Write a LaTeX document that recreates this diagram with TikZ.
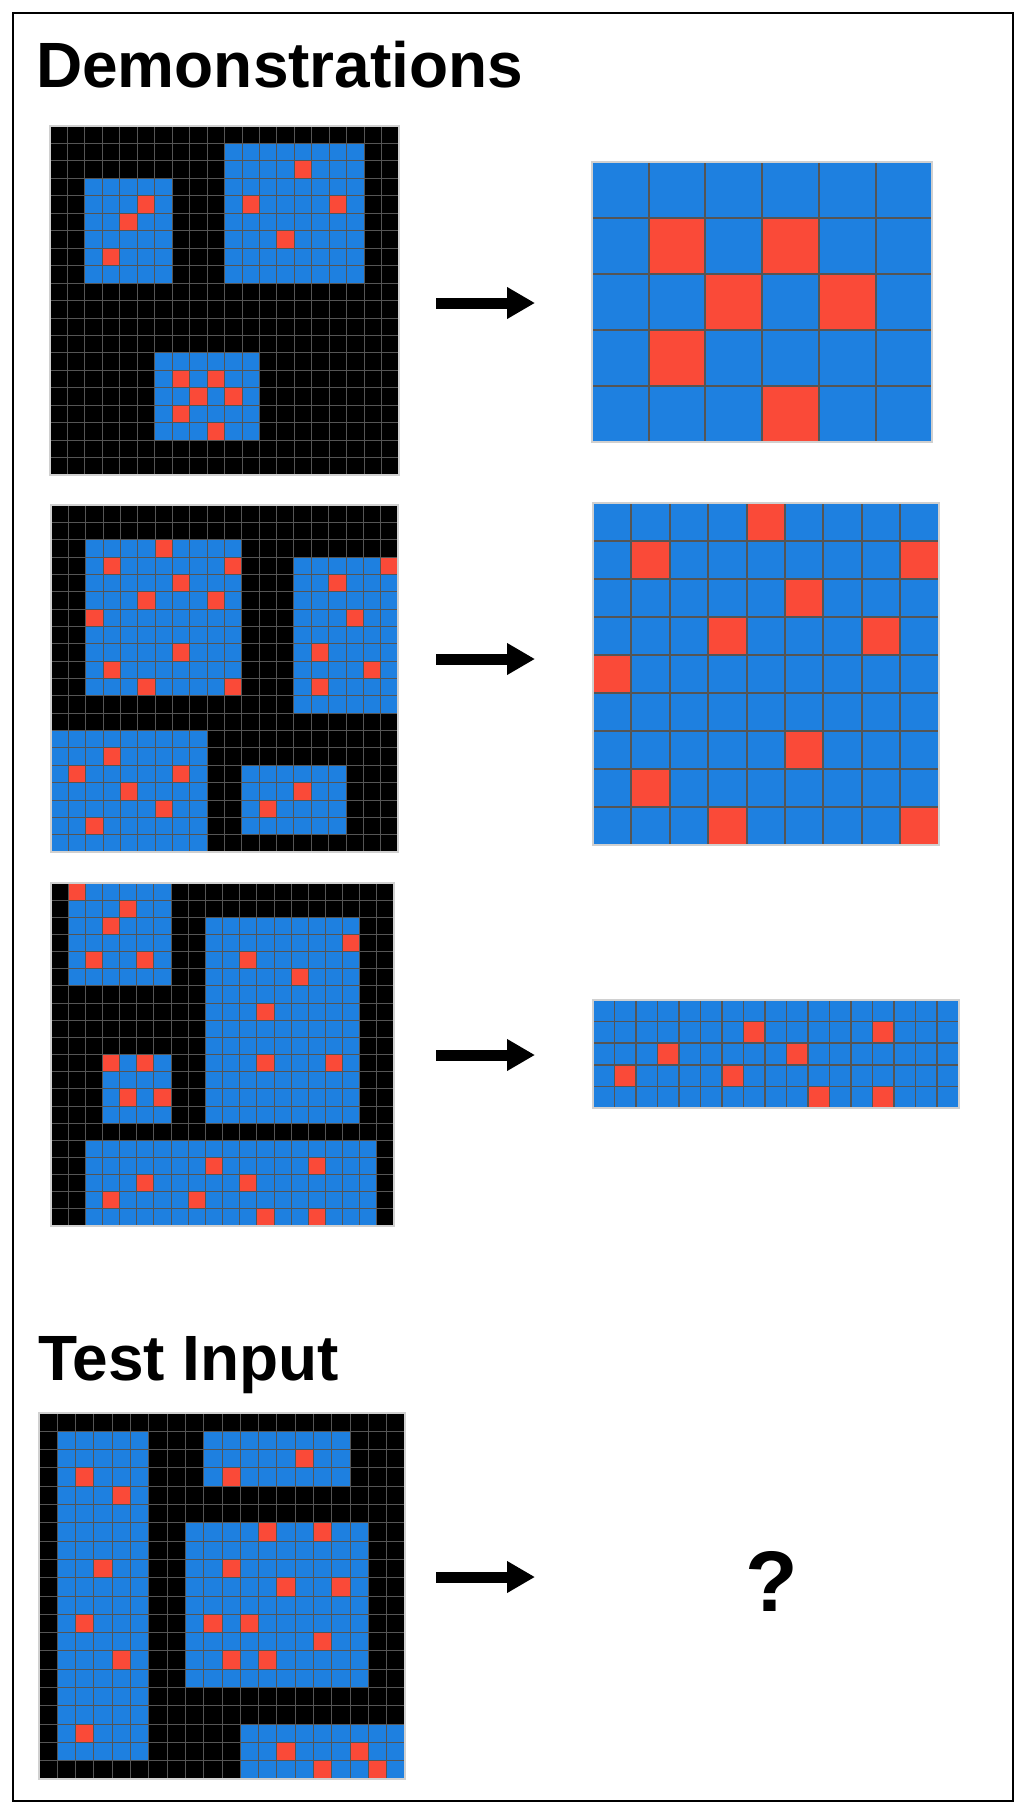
\documentclass[tikz,border=0pt]{standalone}
\usepackage{fontspec}
\setmainfont{Liberation Sans}
\usetikzlibrary{arrows.meta}

\definecolor{arcblue}{RGB}{30,128,224}
\definecolor{arcred}{RGB}{250,74,56}
\definecolor{arcline}{RGB}{85,85,85}
\definecolor{arcrim}{RGB}{208,208,208}

\begin{document}
\begin{tikzpicture}[x = 1pt, y = -1pt,
                      back/.style = {fill = black},
                      patch/.style = {fill = arcblue},
                      dot/.style = {fill = arcred},
                      lines/.style = {draw = arcline, line width = 0.9pt},
                      thicklines/.style = {draw = arcline, line width = 2pt},
                      rim/.style = {draw = arcrim, line width = 2pt},
                      title/.style = {font = \bfseries\fontsize{64}{70}\selectfont, anchor = base west, inner sep = 0},
                      pointer/.style = {line width = 11pt, -{Triangle[length = 28pt, width = 30pt]}}]
    \fill [white] (0, 0) rectangle (1028, 1814);
    \useasboundingbox (0, 0) rectangle (1028, 1814);
    \draw [line width = 2pt] (13, 13) rectangle (1013, 1801);

    \node [title] (demos) at (36, 88) {Demonstrations};
    \node [title] (test) at (38, 1380) {Test Input};

    % demonstration 1
    \begin{scope}[shift = {(50, 126)}, x = 17.45pt, y = -17.45pt]
    \fill [back] (0, 0) rectangle (20, 20);
    \fill [patch] (2, 3) rectangle (7, 9);
    \fill [patch] (10, 1) rectangle (18, 9);
    \fill [patch] (6, 13) rectangle (12, 18);
    \foreach \c/\r in {5/4, 4/5, 3/7, 14/2, 11/4, 16/4, 13/6, 7/14, 9/14, 8/15, 10/15, 7/16, 9/17}
        \fill [dot] (\c, \r) rectangle ++(1, 1);
    \foreach \i in {1,...,19}
        \draw [lines] (\i, 0) -- (\i, 20) (0, \i) -- (20, \i);
    \draw [rim] (0, 0) rectangle (20, 20);
    \end{scope}
    \begin{scope}[shift = {(592, 162)}, x = 56.7pt, y = -56pt]
    \fill [patch] (0, 0) rectangle (6, 5);
    \foreach \c/\r in {1/1, 3/1, 2/2, 4/2, 1/3, 3/4}
        \fill [dot] (\c, \r) rectangle ++(1, 1);
    \foreach \i in {1,...,5}
        \draw [thicklines] (\i, 0) -- (\i, 5);
    \foreach \i in {1,...,4}
        \draw [thicklines] (0, \i) -- (6, \i);
    \draw [rim] (0, 0) rectangle (6, 5);
    \end{scope}

    % demonstration 2
    \begin{scope}[shift = {(51, 505)}, x = 17.35pt, y = -17.35pt]
    \fill [back] (0, 0) rectangle (20, 20);
    \fill [patch] (2, 2) rectangle (11, 11);
    \fill [patch] (14, 3) rectangle (20, 12);
    \fill [patch] (0, 13) rectangle (9, 20);
    \fill [patch] (11, 15) rectangle (17, 19);
    \foreach \c/\r in {6/2, 3/3, 10/3, 7/4, 5/5, 9/5, 2/6, 7/8, 3/9, 5/10, 10/10,
                       19/3, 16/4, 17/6, 15/8, 18/9, 15/10,
                       3/14, 1/15, 7/15, 4/16, 6/17, 2/18, 14/16, 12/17}
        \fill [dot] (\c, \r) rectangle ++(1, 1);
    \foreach \i in {1,...,19}
        \draw [lines] (\i, 0) -- (\i, 20) (0, \i) -- (20, \i);
    \draw [rim] (0, 0) rectangle (20, 20);
    \end{scope}
    \begin{scope}[shift = {(593, 503)}, x = 38.4pt, y = -38pt]
    \fill [patch] (0, 0) rectangle (9, 9);
    \foreach \c/\r in {4/0, 1/1, 8/1, 5/2, 3/3, 7/3, 0/4, 5/6, 1/7, 3/8, 8/8}
        \fill [dot] (\c, \r) rectangle ++(1, 1);
    \foreach \i in {1,...,8}
        \draw [thicklines] (\i, 0) -- (\i, 9) (0, \i) -- (9, \i);
    \draw [rim] (0, 0) rectangle (9, 9);
    \end{scope}

    % demonstration 3
    \begin{scope}[shift = {(51, 883)}, x = 17.15pt, y = -17.15pt]
    \fill [back] (0, 0) rectangle (20, 20);
    \fill [patch] (1, 0) rectangle (7, 6);
    \fill [patch] (9, 2) rectangle (18, 14);
    \fill [patch] (3, 10) rectangle (7, 14);
    \fill [patch] (2, 15) rectangle (19, 20);
    \foreach \c/\r in {1/0, 4/1, 3/2, 2/4, 5/4,
                       17/3, 11/4, 14/5, 12/7, 12/10, 16/10,
                       3/10, 5/10, 4/12, 6/12,
                       9/16, 15/16, 5/17, 11/17, 3/18, 8/18, 12/19, 15/19}
        \fill [dot] (\c, \r) rectangle ++(1, 1);
    \foreach \i in {1,...,19}
        \draw [lines] (\i, 0) -- (\i, 20) (0, \i) -- (20, \i);
    \draw [rim] (0, 0) rectangle (20, 20);
    \end{scope}
    \begin{scope}[shift = {(593, 1000)}, x = 21.5pt, y = -21.6pt]
    \fill [patch] (0, 0) rectangle (17, 5);
    \foreach \c/\r in {7/1, 13/1, 3/2, 9/2, 1/3, 6/3, 10/4, 13/4}
        \fill [dot] (\c, \r) rectangle ++(1, 1);
    \foreach \i in {1,...,16}
        \draw [lines, line width = 1.5pt] (\i, 0) -- (\i, 5);
    \foreach \i in {1,...,4}
        \draw [lines, line width = 1.5pt] (0, \i) -- (17, \i);
    \draw [rim] (0, 0) rectangle (17, 5);
    \end{scope}

    % test input
    \begin{scope}[shift = {(39, 1413)}, x = 18.3pt, y = -18.3pt]
    \fill [back] (0, 0) rectangle (20, 20);
    \fill [patch] (1, 1) rectangle (6, 19);
    \fill [patch] (9, 1) rectangle (17, 4);
    \fill [patch] (8, 6) rectangle (18, 15);
    \fill [patch] (11, 17) rectangle (20, 20);
    \foreach \c/\r in {2/3, 4/4, 3/8, 2/11, 4/13, 2/17,
                       14/2, 10/3,
                       12/6, 15/6, 10/8, 13/9, 16/9, 9/11, 11/11, 15/12, 10/13, 12/13,
                       13/18, 17/18, 15/19, 18/19}
        \fill [dot] (\c, \r) rectangle ++(1, 1);
    \foreach \i in {1,...,19}
        \draw [lines] (\i, 0) -- (\i, 20) (0, \i) -- (20, \i);
    \draw [rim] (0, 0) rectangle (20, 20);
    \end{scope}
    \node [font = \bfseries\fontsize{86}{90}\selectfont, anchor = base, inner sep = 0] (answer) at (772, 1611) {?};

    % arrows
    \coordinate (from1) at (436, 303);
    \coordinate (to1) at (535, 303);
    \coordinate (from2) at (436, 659);
    \coordinate (to2) at (535, 659);
    \coordinate (from3) at (436, 1055);
    \coordinate (to3) at (535, 1055);
    \coordinate (fromt) at (436, 1577);
    \coordinate (tot) at (535, 1577);
    \draw [pointer] (from1) -- (to1);
    \draw [pointer] (from2) -- (to2);
    \draw [pointer] (from3) -- (to3);
    \draw [pointer] (fromt) -- (tot);
\end{tikzpicture}
\end{document}
